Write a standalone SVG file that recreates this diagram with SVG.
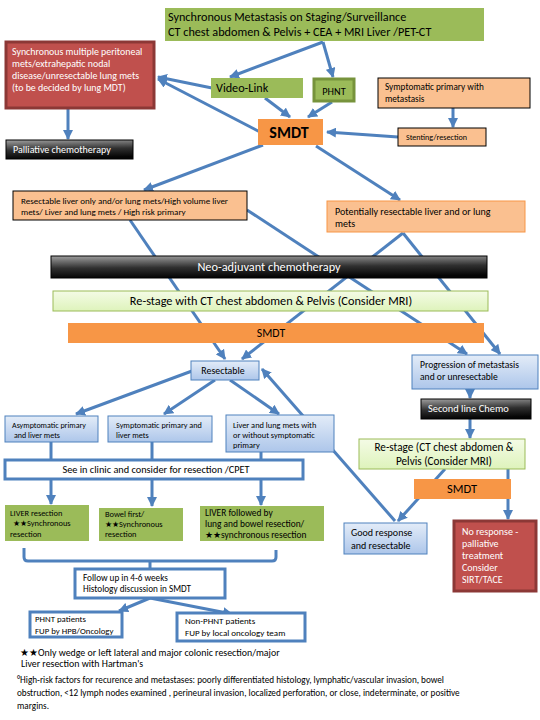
<svg xmlns="http://www.w3.org/2000/svg" width="540" height="720" viewBox="0 0 540 720">
<defs>
<linearGradient id="gDark" x1="0" y1="0" x2="0.15" y2="1"><stop offset="0" stop-color="#a0a0a0"/><stop offset="0.55" stop-color="#303030"/><stop offset="1" stop-color="#050505"/></linearGradient>
<linearGradient id="gBlue" x1="0" y1="0" x2="0" y2="1"><stop offset="0" stop-color="#e3ecf8"/><stop offset="1" stop-color="#adc6ea"/></linearGradient>
<linearGradient id="gLGreen" x1="0" y1="0" x2="0" y2="1"><stop offset="0" stop-color="#f4fbe6"/><stop offset="1" stop-color="#def3bb"/></linearGradient>
<marker id="ah" viewBox="0 0 10 10" refX="9" refY="5" markerWidth="10" markerHeight="10" markerUnits="userSpaceOnUse" orient="auto"><path d="M0,0 L10,5 L0,10 Z" fill="#4f81bd"/></marker>
<style>
.t{font-family:Carlito,Lato,"Liberation Sans",sans-serif;fill:#000}
.w{fill:#fff}
.c{stroke:#4f81bd;stroke-width:3;fill:none}
.a{marker-end:url(#ah)}
.green{fill:#9bbb59}
.orange{fill:#fac090;stroke:#000;stroke-width:1}
.smdt{fill:#f79646}
.red{fill:#c0504d;stroke:#8c3836;stroke-width:3}
.dark{fill:url(#gDark);stroke:#000;stroke-width:1}
.blue{fill:url(#gBlue);stroke:#4f81bd;stroke-width:1}
.lg{fill:url(#gLGreen);stroke:#9bbb59;stroke-width:1}
.wb{fill:#fff;stroke:#4f81bd;stroke-width:3}
</style>
</defs>
<rect width="540" height="720" fill="#fff"/>
<g id="connectors">
<path class="c a" d="M323,42 L333,77"/>
<path class="c a" d="M323,42 L230,77"/>
<path class="c a" d="M212,88 L158,77"/>
<path class="c a" d="M260,132 L158,79"/>
<path class="c a" d="M265,98 L290,117"/>
<path class="c a" d="M332,102 L308,117"/>
<path class="c a" d="M453,108 L453,127"/>
<path class="c a" d="M398,137 L327,132"/>
<path class="c a" d="M68,109 L68,139"/>
<path class="c a" d="M263,145 L144,190"/>
<path class="c a" d="M316,146 L400,200"/>
<path class="c a" d="M130,220 L225,359"/>
<path class="c a" d="M247,210 L467,354"/>
<path class="c a" d="M403,233 L242,359"/>
<path class="c a" d="M403,233 L500,354"/>
<path class="c a" d="M192,371 L76,414"/>
<path class="c a" d="M215,380 L164,414"/>
<path class="c a" d="M230,380 L279,414"/>
<path class="c a" d="M395,521 L262,369"/>
<path class="c a" d="M445,469 L398,521"/>
<path class="c a" d="M470,389 L470,398"/>
<path class="c a" d="M470,419 L470,438"/>
<path class="c a" d="M508,469 L508,519"/>
<path class="c" d="M51,442 V460 M152,442 V460 M261,452 V460"/>
<path class="c a" d="M51,479 V504"/>
<path class="c a" d="M152,479 V506"/>
<path class="c a" d="M261,479 V505"/>
<path class="c" d="M24,548 V557 Q24,561 28,561 H272 Q276,561 276,557 V550"/>
<path class="c" d="M150,561 V569"/>
<path class="c a" d="M150,598 L119,611"/>
<path class="c a" d="M150,598 L232,614"/>
</g>
<g id="n-top"><rect class="green" x="165" y="8" width="319" height="33"/>
<text class="t" x="168" y="21" font-size="12.2">Synchronous Metastasis on Staging/Surveillance</text>
<text class="t" x="168" y="36" font-size="12.2">CT chest abdomen &amp; Pelvis + CEA + MRI Liver /PET-CT</text></g>
<g id="n-red1"><rect class="red" x="6" y="42" width="148" height="66"/>
<text class="t w" font-size="9.9"><tspan x="12" y="55">Synchronous multiple peritoneal</tspan><tspan x="12" y="67">mets/extrahepatic nodal</tspan><tspan x="12" y="79">disease/unresectable lung mets</tspan><tspan x="12" y="91">(to be decided by lung MDT)</tspan></text></g>
<g id="n-video"><rect class="green" x="211" y="78" width="92" height="20"/>
<text class="t" x="216" y="92" font-size="12.2">Video-Link</text></g>
<g id="n-phnt"><rect class="green" x="314" y="79" width="40" height="22" stroke="#77933c" stroke-width="3"/>
<text class="t" x="334" y="95" font-size="10.3" text-anchor="middle">PHNT</text></g>
<g id="n-symp"><rect class="orange" x="378" y="78" width="152" height="30"/>
<text class="t" font-size="9.2"><tspan x="385" y="90">Symptomatic primary with</tspan><tspan x="385" y="102">metastasis</tspan></text></g>
<g id="n-smdt1"><rect class="smdt" x="258" y="119" width="65" height="26"/>
<text class="t" x="289" y="138" font-size="16" font-weight="bold" text-anchor="middle">SMDT</text></g>
<g id="n-stent"><rect class="orange" x="398" y="128" width="88" height="18"/>
<text class="t" x="406" y="140" font-size="8.1">Stenting/resection</text></g>
<g id="n-pall"><rect class="dark" x="6" y="140" width="127" height="19"/>
<text class="t w" x="13" y="153" font-size="10">Palliative chemotherapy</text></g>
<g id="n-resliver"><rect class="orange" x="13" y="191" width="234" height="29"/>
<text class="t" font-size="9"><tspan x="21" y="204">Resectable liver only and/or lung mets/High volume liver</tspan><tspan x="21" y="215">mets/ Liver and lung mets / High risk primary</tspan></text></g>
<g id="n-potential"><rect x="327" y="201" width="198" height="31" fill="#fac090" stroke="#f79646" stroke-width="1"/>
<text class="t" font-size="10"><tspan x="335" y="215">Potentially resectable liver and or lung</tspan><tspan x="335" y="227">mets</tspan></text></g>
<g id="n-neo"><rect class="dark" x="51" y="256" width="436" height="22"/>
<text class="t w" x="269" y="271" font-size="12.3" text-anchor="middle">Neo-adjuvant chemotherapy</text></g>
<g id="n-restage1"><rect class="lg" x="53" y="291" width="435" height="20"/>
<text class="t" x="271" y="305" font-size="12.3" text-anchor="middle">Re-stage with CT chest abdomen &amp; Pelvis (Consider MRI)</text></g>
<g id="n-smdt2"><rect class="smdt" x="68" y="323" width="416" height="20"/>
<text class="t" x="271" y="337" font-size="11.8" text-anchor="middle">SMDT</text></g>
<g id="n-resectable"><rect class="blue" x="191" y="361" width="68" height="19"/>
<text class="t" x="223" y="374" font-size="9.9" text-anchor="middle">Resectable</text></g>
<g id="n-progression"><rect class="blue" x="412" y="355" width="126" height="34"/>
<text class="t" font-size="9.6"><tspan x="420" y="368">Progression of metastasis</tspan><tspan x="420" y="380">and or unresectable</tspan></text></g>
<g id="n-second"><rect class="dark" x="421" y="399" width="110" height="20"/>
<text class="t w" x="428" y="412" font-size="10.4">Second line Chemo</text></g>
<g id="n-restage2"><rect class="lg" x="359" y="439" width="166" height="30"/>
<text class="t" font-size="11.2" text-anchor="middle"><tspan x="444" y="451">Re-stage (CT chest abdomen &amp;</tspan><tspan x="444" y="465">Pelvis (Consider MRI)</tspan></text></g>
<g id="n-smdt3"><rect class="smdt" x="414" y="479" width="97" height="20"/>
<text class="t" x="462" y="493" font-size="12.5" text-anchor="middle">SMDT</text></g>
<g id="n-asym"><rect class="blue" x="5" y="416" width="93" height="26"/>
<text class="t" font-size="8"><tspan x="12" y="428">Asymptomatic primary</tspan><tspan x="14" y="438">and liver mets</tspan></text></g>
<g id="n-sympliver"><rect class="blue" x="108" y="416" width="104" height="26"/>
<text class="t" font-size="8.2"><tspan x="116" y="428">Symptomatic primary and</tspan><tspan x="116" y="438">liver mets</tspan></text></g>
<g id="n-liverlung"><rect class="blue" x="226" y="415" width="108" height="37"/>
<text class="t" font-size="8.4"><tspan x="233" y="428">Liver and lung mets with</tspan><tspan x="233" y="438">or without symptomatic</tspan><tspan x="233" y="448">primary</tspan></text></g>
<g id="n-clinic"><rect class="wb" x="5" y="460" width="298" height="19"/>
<text class="t" x="156" y="473" font-size="10.3" text-anchor="middle">See in clinic and consider for resection /CPET</text></g>
<g id="n-good"><rect class="blue" x="344" y="523" width="83" height="31"/>
<text class="t" font-size="10"><tspan x="351" y="536">Good response</tspan><tspan x="351" y="549">and resectable</tspan></text></g>
<g id="n-noresp"><rect class="red" x="454" y="521" width="82" height="70"/>
<text class="t w" font-size="10"><tspan x="462" y="535">No response -</tspan><tspan x="462" y="547">palliative</tspan><tspan x="462" y="559">treatment</tspan><tspan x="462" y="571">Consider</tspan><tspan x="462" y="583">SIRT/TACE</tspan></text></g>
<g id="n-liverres"><rect class="green" x="5" y="505" width="84" height="36"/>
<text class="t" font-size="8.4"><tspan x="10" y="516">LIVER resection</tspan><tspan x="13" y="526">★★Synchronous</tspan><tspan x="10" y="537">resection</tspan></text></g>
<g id="n-bowel"><rect class="green" x="99" y="508" width="84" height="33"/>
<text class="t" font-size="8.4"><tspan x="105" y="517">Bowel first/</tspan><tspan x="105" y="527">★★Synchronous</tspan><tspan x="105" y="537">resection</tspan></text></g>
<g id="n-liverfollow"><rect class="green" x="200" y="506" width="124" height="35"/>
<text class="t" font-size="9.4"><tspan x="205" y="516">LIVER followed by</tspan><tspan x="205" y="527">lung and bowel resection/</tspan><tspan x="205" y="538">★★synchronous resection</tspan></text></g>
<g id="n-follow"><rect class="wb" x="75" y="569" width="150" height="29"/>
<text class="t" font-size="9.2"><tspan x="83" y="581">Follow up in 4-6 weeks</tspan><tspan x="83" y="592">Histology discussion in SMDT</tspan></text></g>
<g id="n-phntpat"><rect class="wb" x="30" y="612" width="92" height="25"/>
<text class="t" font-size="8.8"><tspan x="35" y="622">PHNT patients</tspan><tspan x="35" y="634">FUP by HPB/Oncology</tspan></text></g>
<g id="n-nonphnt"><rect class="wb" x="177" y="613" width="128" height="28"/>
<text class="t" font-size="9"><tspan x="185" y="624">Non-PHNT patients</tspan><tspan x="185" y="636">FUP by local oncology team</tspan></text></g>
<g id="footnotes">
<text class="t" font-size="9.9"><tspan x="20" y="656">★★Only wedge or left lateral and major colonic resection/major</tspan><tspan x="21" y="667">Liver resection with Hartman's</tspan></text>
<text class="t" font-size="9.2"><tspan x="17" y="683">°High-risk factors for recurence and metastases: poorly differentiated histology, lymphatic/vascular invasion, bowel</tspan><tspan x="17" y="696">obstruction, &lt;12 lymph nodes examined , perineural invasion, localized perforation, or close, indeterminate, or positive</tspan><tspan x="17" y="709">margins.</tspan></text>
</g>
</svg>
